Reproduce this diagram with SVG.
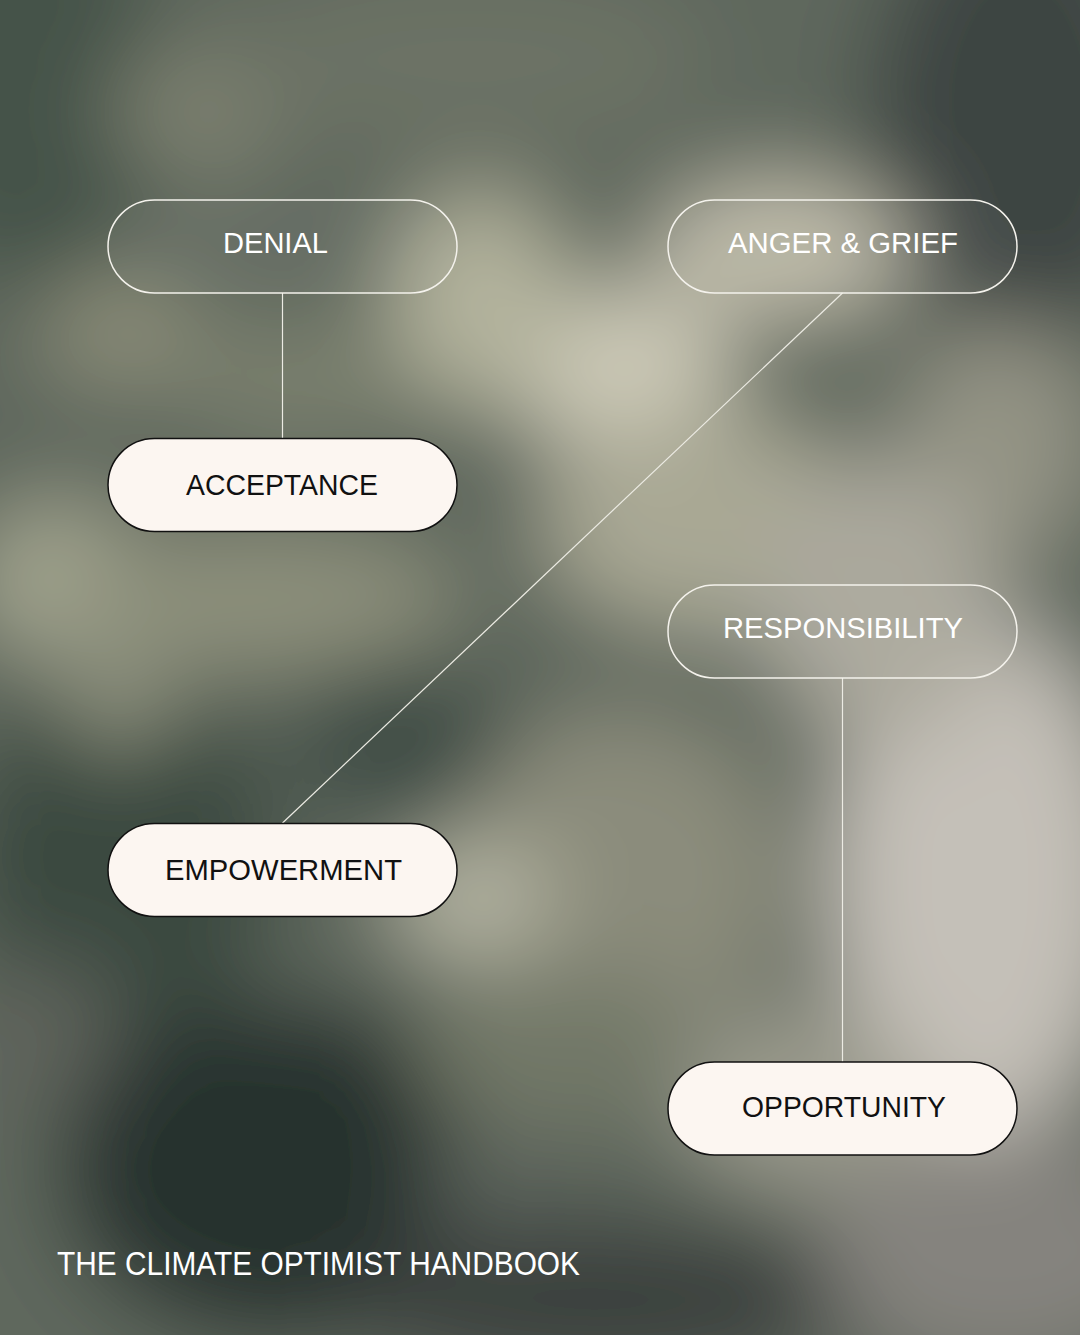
<svg xmlns="http://www.w3.org/2000/svg" width="1080" height="1335" viewBox="0 0 1080 1335">
<defs>
<filter id="blur" filterUnits="userSpaceOnUse" x="-300" y="-300" width="1680" height="1935">
<feGaussianBlur stdDeviation="45"/>
</filter>
<style>
.pill-o{fill:#ffffff;fill-opacity:0.04;stroke:#f4f2ec;stroke-width:1.5}
.pill-f{fill:#fcf6f1;stroke:#111111;stroke-width:1.5}
.lbl{font-family:"Liberation Sans",Arial,sans-serif;font-size:30px;text-anchor:middle}
.lbl-w{fill:#ffffff}
.lbl-d{fill:#111111}
.conn line{stroke:#ecebe3;stroke-width:1.2}
</style>
</defs>
<g id="background">
<rect x="0" y="0" width="1080" height="1335" fill="#5f675d"/>
<g filter="url(#blur)">
<rect x="-200" y="-200" width="1480" height="1735" fill="#5f675d"/>
<ellipse cx="30" cy="90" rx="140" ry="200" fill="#44524a"/>
<ellipse cx="200" cy="110" rx="90" ry="70" fill="#7c8070"/>
<ellipse cx="1020" cy="120" rx="150" ry="230" fill="#3e4542"/>
<ellipse cx="470" cy="60" rx="240" ry="90" fill="#6c7265"/>
<ellipse cx="620" cy="370" rx="110" ry="80" fill="#cdcab8"/>
<ellipse cx="480" cy="300" rx="90" ry="110" fill="#b2b29c"/>
<ellipse cx="700" cy="520" rx="160" ry="110" fill="#a9a894"/>
<ellipse cx="780" cy="250" rx="130" ry="70" fill="#bdbaa8"/>
<ellipse cx="1000" cy="440" rx="100" ry="120" fill="#939384"/>
<ellipse cx="60" cy="580" rx="90" ry="80" fill="#a2a48f"/>
<ellipse cx="260" cy="600" rx="200" ry="70" fill="#8d907c"/>
<ellipse cx="400" cy="740" rx="110" ry="80" fill="#3e4c44"/>
<ellipse cx="120" cy="860" rx="160" ry="190" fill="#3b4940"/>
<ellipse cx="120" cy="700" rx="60" ry="50" fill="#8a8e7c"/>
<ellipse cx="40" cy="1040" rx="80" ry="80" fill="#5e645c"/>
<ellipse cx="280" cy="1170" rx="220" ry="170" fill="#26302d"/>
<ellipse cx="520" cy="1180" rx="90" ry="70" fill="#5c645c"/>
<ellipse cx="600" cy="1300" rx="260" ry="80" fill="#3a403d"/>
<ellipse cx="980" cy="880" rx="150" ry="260" fill="#c4c0b8"/>
<ellipse cx="880" cy="600" rx="120" ry="140" fill="#aaa89c"/>
<ellipse cx="1000" cy="1250" rx="180" ry="120" fill="#85837e"/>
<ellipse cx="620" cy="880" rx="170" ry="170" fill="#8b8c7c"/>
<ellipse cx="560" cy="1050" rx="150" ry="80" fill="#727868"/>
<ellipse cx="300" cy="380" rx="120" ry="60" fill="#7a806e"/>
<ellipse cx="120" cy="330" rx="80" ry="60" fill="#8a8c78"/>
<ellipse cx="800" cy="1100" rx="120" ry="90" fill="#9a9a8c"/>
<ellipse cx="470" cy="900" rx="80" ry="60" fill="#b4b4a2"/>
</g>
</g>
<g id="connectors" class="conn">
<line x1="282.5" y1="293" x2="282.5" y2="438"/>
<line x1="842.5" y1="293" x2="282.5" y2="823"/>
<line x1="842.5" y1="678" x2="842.5" y2="1062"/>
</g>
<g id="node-denial">
<rect class="pill-o" x="108" y="200" width="349" height="93" rx="46.5"/>
<text class="lbl lbl-w" x="275.5" y="253" textLength="105" lengthAdjust="spacingAndGlyphs">DENIAL</text>
</g>
<g id="node-anger">
<rect class="pill-o" x="668" y="200" width="349" height="93" rx="46.5"/>
<text class="lbl lbl-w" x="843" y="253" textLength="230" lengthAdjust="spacingAndGlyphs">ANGER &amp; GRIEF</text>
</g>
<g id="node-acceptance">
<rect class="pill-f" x="108" y="438.5" width="349" height="93" rx="46.5"/>
<text class="lbl lbl-d" x="282" y="495" textLength="192" lengthAdjust="spacingAndGlyphs">ACCEPTANCE</text>
</g>
<g id="node-responsibility">
<rect class="pill-o" x="668" y="585" width="349" height="93" rx="46.5"/>
<text class="lbl lbl-w" x="843" y="638" textLength="240" lengthAdjust="spacingAndGlyphs">RESPONSIBILITY</text>
</g>
<g id="node-empowerment">
<rect class="pill-f" x="108" y="823.5" width="349" height="93" rx="46.5"/>
<text class="lbl lbl-d" x="283.5" y="880" textLength="237" lengthAdjust="spacingAndGlyphs">EMPOWERMENT</text>
</g>
<g id="node-opportunity">
<rect class="pill-f" x="668" y="1062" width="349" height="93" rx="46.5"/>
<text class="lbl lbl-d" x="844" y="1117" textLength="204" lengthAdjust="spacingAndGlyphs">OPPORTUNITY</text>
</g>
<g id="title">
<text x="57" y="1275" font-family="Liberation Sans, Arial, sans-serif" font-size="33" fill="#ffffff" textLength="523" lengthAdjust="spacingAndGlyphs">THE CLIMATE OPTIMIST HANDBOOK</text>
</g>
</svg>
